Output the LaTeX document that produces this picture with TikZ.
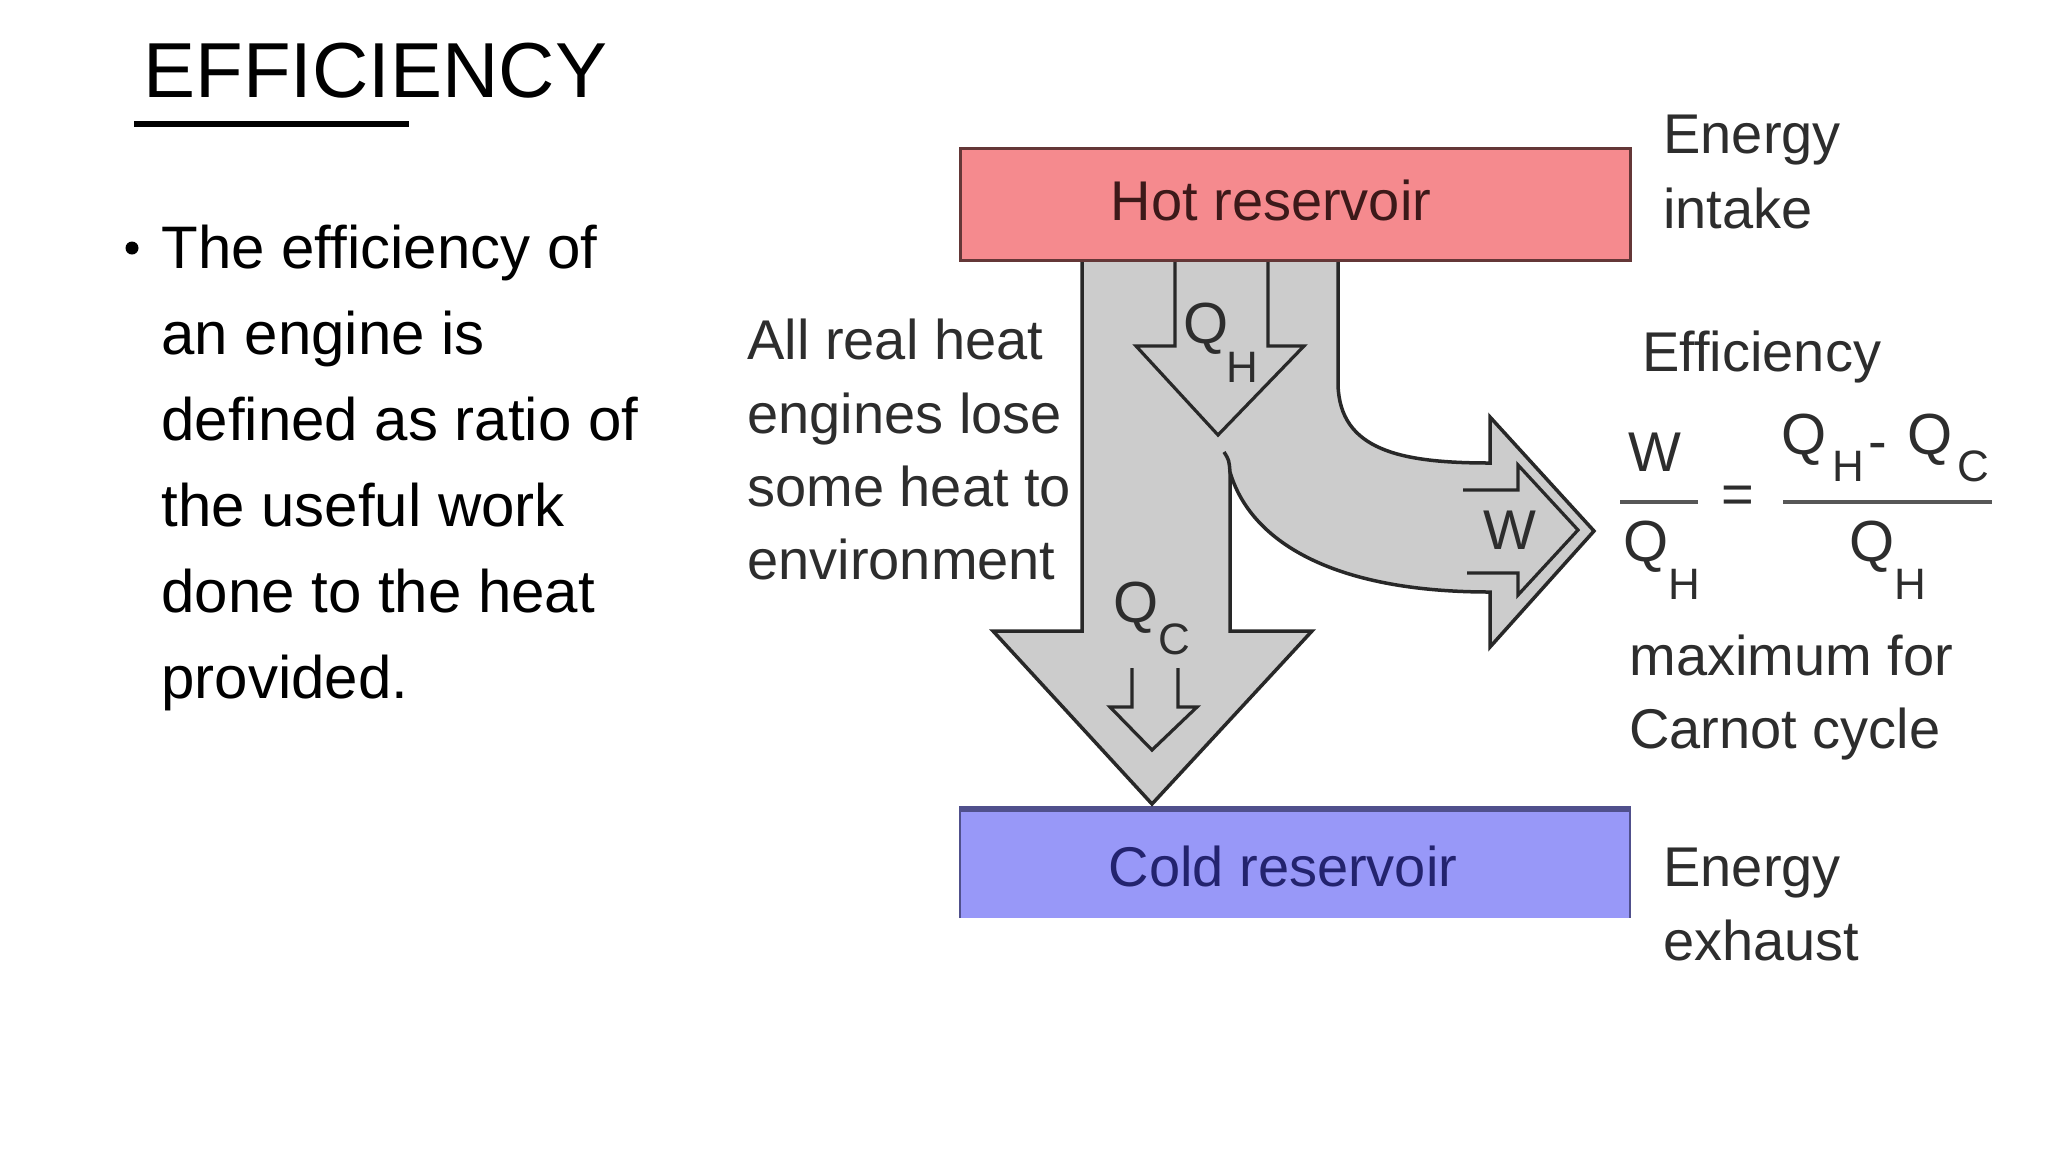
\documentclass[tikz,border=0pt]{standalone}
\usepackage{fontspec}
\setmainfont{Liberation Sans}
\definecolor{grayfill}{RGB}{204,204,204}
\definecolor{outl}{RGB}{40,40,40}
\definecolor{hotfill}{RGB}{245,138,142}
\definecolor{hotline}{RGB}{100,55,55}
\definecolor{hottext}{RGB}{60,25,25}
\definecolor{coldfill}{RGB}{152,152,248}
\definecolor{coldline}{RGB}{80,80,140}
\definecolor{coldtext}{RGB}{35,35,110}
\definecolor{dtext}{RGB}{45,45,45}
\begin{document}
\begin{tikzpicture}[x=0.5pt,y=-0.5pt,
  body/.style={anchor=base west, inner sep=0, font=\fontsize{30}{36}\selectfont},
  dlab/.style={anchor=base west, inner sep=0, text=dtext, font=\fontsize{28}{34}\selectfont},
  big/.style={inner sep=0, text=dtext, font=\fontsize{28}{34}\selectfont},
  bigq/.style={inner sep=0, text=dtext, font=\fontsize{29}{34}\selectfont},
  sub/.style={inner sep=0, text=dtext, font=\fontsize{22}{26}\selectfont},
  outline/.style={draw=outl, line width=1.75pt, line join=miter},
  innerarrow/.style={draw=outl, line width=1.6pt},
  fracbar/.style={draw=dtext!80, line width=2pt}
]
\fill[white] (0,0) rectangle (2048,1152);
\useasboundingbox (0,0) rectangle (2048,1152);

% title
\node[anchor=base west, inner sep=0, font=\fontsize{39}{47}\selectfont] (title) at (143,97) {EFFICIENCY};
\draw[line width=3pt] (134,124) -- (409,124);

% bullet text
\node[circle, fill=black, inner sep=0, minimum size=6.5pt] (bullet) at (132,248) {};
\node[body] (b1) at (161,268) {The efficiency of};
\node[body] (b2) at (161,354) {an engine is};
\node[body] (b3) at (161,440) {defined as ratio of};
\node[body] (b4) at (161,526) {the useful work};
\node[body] (b5) at (161,612) {done to the heat};
\node[body] (b6) at (161,698) {provided.};

% reservoirs
\node[draw=hotline, fill=hotfill, line width=1.5pt, minimum width=335pt, minimum height=56pt, inner sep=0] (hot) at (1295,204) {};
\node[inner sep=0, text=hottext, font=\fontsize{28}{34}\selectfont] (hotlabel) at (1271,200) {Hot reservoir};

\fill[coldfill] (960,807) rectangle (1630,918);
\draw[coldline, line width=1.2pt] (960,918) -- (960,807) -- (1630,807) -- (1630,918);
\draw[coldline, line width=3pt] (960,809) -- (1630,809);
\node[inner sep=0, text=coldtext, font=\fontsize{28}{34}\selectfont] (coldlabel) at (1283,866) {Cold reservoir};

% big gray flow shape
\fill[grayfill] (1082,262) -- (1082,631) -- (993,631) -- (1152,804) -- (1312,631) -- (1230,631) -- (1230,472)
  .. controls (1250,540) and (1330,592) .. (1490,592) -- (1490,647) -- (1594,531) -- (1490,417) -- (1490,463)
  .. controls (1400,463) and (1340,450) .. (1338,385) -- (1338,262) -- cycle;
\draw[outline] (1082,262) -- (1082,631) -- (993,631) -- (1152,804) -- (1312,631) -- (1230,631) -- (1230,472);
\draw[outline] (1224,452) .. controls (1229,460) .. (1230,472)
  .. controls (1250,540) and (1330,592) .. (1490,592) -- (1490,647) -- (1594,531) -- (1490,417) -- (1490,463)
  .. controls (1400,463) and (1340,450) .. (1338,385) -- (1338,262);

% inner arrows
\draw[innerarrow] (1175,262) -- (1175,346) -- (1136,346) -- (1218,435) -- (1304,346) -- (1268,346) -- (1268,262);
\draw[innerarrow] (1132,668) -- (1132,707) -- (1110,707) -- (1152,750) -- (1197,707) -- (1178,707) -- (1178,668);
\draw[innerarrow] (1463,490) -- (1518,490) -- (1518,465) -- (1578,530) -- (1518,595) -- (1518,573) -- (1467,573);

% arrow labels
\node[bigq] (qh) at (1206,329) {Q};
\node[sub] (qhs) at (1242,367) {H};
\node[bigq] (qc) at (1136,608) {Q};
\node[sub] (qcs) at (1174,639) {C};
\node[big] (w) at (1510,530) {W};

% side labels
\node[dlab] (e1) at (1663,153) {Energy};
\node[dlab] (e2) at (1663,228) {intake};
\node[dlab] (e3) at (1663,886) {Energy};
\node[dlab] (e4) at (1663,960) {exhaust};

\node[dlab] (a1) at (747,359) {All real heat};
\node[dlab] (a2) at (747,433) {engines lose};
\node[dlab] (a3) at (747,506) {some heat to};
\node[dlab] (a4) at (747,579) {environment};

\node[dlab] (eff) at (1642,371) {Efficiency};
\node[dlab] (m1) at (1629,675) {maximum for};
\node[dlab] (m2) at (1629,748) {Carnot cycle};

% formula
\node[big] (fw) at (1655,452) {W};
\draw[fracbar] (1620,502) -- (1698,502);
\node[big] (feq) at (1738,500) {=};
\draw[fracbar] (1783,502) -- (1992,502);
\node[bigq] (fq1) at (1804,440) {Q};
\node[sub] (fh1) at (1848,466) {H};
\node[big] (fminus) at (1878,452) {-};
\node[bigq] (fq2) at (1930,440) {Q};
\node[sub] (fc) at (1973,466) {C};
\node[bigq] (fq3) at (1646,547) {Q};
\node[sub] (fh3) at (1684,584) {H};
\node[bigq] (fq4) at (1872,547) {Q};
\node[sub] (fh4) at (1910,584) {H};
\end{tikzpicture}
\end{document}
